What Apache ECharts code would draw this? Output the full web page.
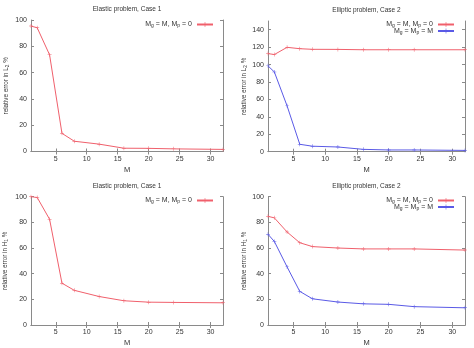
<!DOCTYPE html>
<html>
<head>
<meta charset="utf-8">
<script src="https://cdn.jsdelivr.net/npm/echarts@6/dist/echarts.min.js"></script>
<style>html,body{margin:0;padding:0;background:#fff}#c{width:474px;height:348px}</style>
</head>
<body>
<div id="c"></div>
<script>
// ---- data ----
var M = [1, 2, 4, 6, 8, 12, 16, 20, 24, 32];
var elasticL2 = [95.4, 94.1, 73.5, 13.8, 7.8, 5.6, 2.5, 2.4, 2.0, 1.6];
var ellipticL2_g = [112.6, 111.5, 119.8, 118.2, 117.5, 117.4, 117.0, 117.0, 117.0, 117.0];
var ellipticL2_gp = [98.5, 91.5, 52.6, 8.5, 6.3, 5.4, 2.7, 2.0, 2.0, 1.5];
var elasticH1 = [100.0, 99.4, 82.4, 32.6, 27.0, 22.2, 18.9, 17.8, 17.6, 17.3];
var ellipticH1_g = [84.7, 83.5, 72.5, 64.1, 61.1, 60.0, 59.3, 59.3, 59.3, 58.4];
var ellipticH1_gp = [70.7, 65.1, 45.3, 26.2, 20.4, 17.9, 16.5, 16.1, 14.3, 13.4];
var xTicks = [5, 10, 15, 20, 25, 30];
var yTicks100 = [0, 20, 40, 60, 80, 100];
var yTicks150 = [0, 20, 40, 60, 80, 100, 120, 140];
var titles = ['Elastic problem, Case 1', 'Elliptic problem, Case 2', 'Elastic problem, Case 1', 'Elliptic problem, Case 2'];
var nameG = 'Mg = M, Mp = 0';
var nameGP = 'Mg = Mp = M';

// ---- styling ----
var FONT = 'Liberation Sans';
var TXT = '#333';
var AX = '#8a8a8a';
var RED = '#f0606c';
var BLUE = '#5a5ae6';
var PLUS = 'path://M0,4.4L10,4.4L10,5.6L0,5.6Z M4.4,0L5.6,0L5.6,10L4.4,10Z';

var grids = [
  {left: 31, top: 20, width: 192, height: 131.5},
  {left: 268, top: 21, width: 197, height: 130.7},
  {left: 31, top: 196.7, width: 192, height: 131},
  {left: 268, top: 196.7, width: 197, height: 131}
];
var yMax = [100, 150, 100, 100];
var yTickSets = [yTicks100, yTicks150, yTicks100, yTicks100];
var yNames = ['L{s|2}', 'L{s|2}', 'H{s|1}', 'H{s|1}'];
var yNameGaps = [21, 17, 22, 18];

var xAxes = [], yAxes = [], titleArr = [];
grids.forEach(function (g, i) {
  var base = {
    gridIndex: i, type: 'value', min: 1, max: 32,
    axisLine: {show: true, lineStyle: {color: AX, width: 1}},
    splitLine: {show: false}
  };
  xAxes.push(Object.assign({}, base, {
    position: 'bottom',
    name: 'M', nameLocation: 'middle', nameGap: 14,
    nameTextStyle: {fontFamily: FONT, fontSize: 7.5, color: TXT},
    axisTick: {show: true, inside: true, length: 3, lineStyle: {color: AX}, customValues: xTicks},
    axisLabel: {show: true, margin: 4, fontFamily: FONT, fontSize: 7, color: TXT, customValues: xTicks}
  }));
  xAxes.push(Object.assign({}, base, {
    position: 'top',
    axisTick: {show: true, inside: true, length: 3, lineStyle: {color: AX}, customValues: xTicks},
    axisLabel: {show: false}
  }));
  var ybase = {
    gridIndex: i, type: 'value', min: 0, max: yMax[i],
    axisLine: {show: true, lineStyle: {color: AX, width: 1}},
    splitLine: {show: false}
  };
  yAxes.push(Object.assign({}, ybase, {
    position: 'left',
    name: 'relative error in ' + yNames[i] + ' %',
    nameLocation: 'middle', nameGap: yNameGaps[i],
    nameTextStyle: {fontFamily: FONT, fontSize: 6.3, color: TXT,
      rich: {s: {fontFamily: FONT, fontSize: 4.8, color: TXT, padding: [3, 0, 0, 0]}}},
    axisTick: {show: true, inside: true, length: 3, lineStyle: {color: AX}, customValues: yTickSets[i]},
    axisLabel: {show: true, margin: 4, fontFamily: FONT, fontSize: 7, color: TXT, customValues: yTickSets[i]}
  }));
  yAxes.push(Object.assign({}, ybase, {
    position: 'right',
    axisTick: {show: true, inside: true, length: 3, lineStyle: {color: AX}, customValues: yTickSets[i]},
    axisLabel: {show: false}
  }));
  titleArr.push({
    text: titles[i], left: g.left + g.width / 2, top: g.top - 14, textAlign: 'center', padding: 0,
    textStyle: {fontFamily: FONT, fontSize: 6.5, fontWeight: 'normal', color: TXT}
  });
});

function mk(vals) { return M.map(function (m, k) { return [m, vals[k]]; }); }
function line(name, vals, color, gi) {
  return {
    type: 'line', name: name, xAxisIndex: gi * 2, yAxisIndex: gi * 2,
    data: mk(vals), color: color,
    symbol: PLUS, symbolSize: 4, showSymbol: true,
    lineStyle: {color: color, width: 1}, itemStyle: {color: color},
    animation: false, silent: true
  };
}
var series = [
  line(nameG, elasticL2, RED, 0),
  line(nameG + ' ', ellipticL2_g, RED, 1),
  line(nameGP, ellipticL2_gp, BLUE, 1),
  line(nameG + '  ', elasticH1, RED, 2),
  line(nameG + '   ', ellipticH1_g, RED, 3),
  line(nameGP + ' ', ellipticH1_gp, BLUE, 3)
];

function legendLabel(n) {
  return n.trim() === nameG ? 'M{s|g} = M, M{s|p} = 0' : 'M{s|g} = M{s|p} = M';
}
var legendText = {fontFamily: FONT, fontSize: 7, color: TXT,
  rich: {s: {fontFamily: FONT, fontSize: 5, color: TXT, padding: [3, 0, 0, 0]}}};
function legend(names, right, top) {
  return {
    data: names, right: right, top: top, orient: 'vertical', align: 'right',
    itemWidth: 16, itemHeight: 6, itemGap: -1, padding: 0,
    formatter: legendLabel, textStyle: legendText, selectedMode: false
  };
}

var chart = echarts.init(document.getElementById('c'), null, {renderer: 'canvas'});
chart.setOption({
  animation: false,
  backgroundColor: '#fff',
  title: titleArr,
  grid: grids,
  xAxis: xAxes,
  yAxis: yAxes,
  legend: [
    legend([nameG], 474 - 214, 21),
    legend([nameG + ' ', nameGP], 474 - 455, 21),
    legend([nameG + '  '], 474 - 214, 197),
    legend([nameG + '   ', nameGP + ' '], 474 - 455, 197)
  ],
  series: series
});
</script>
</body>
</html>
